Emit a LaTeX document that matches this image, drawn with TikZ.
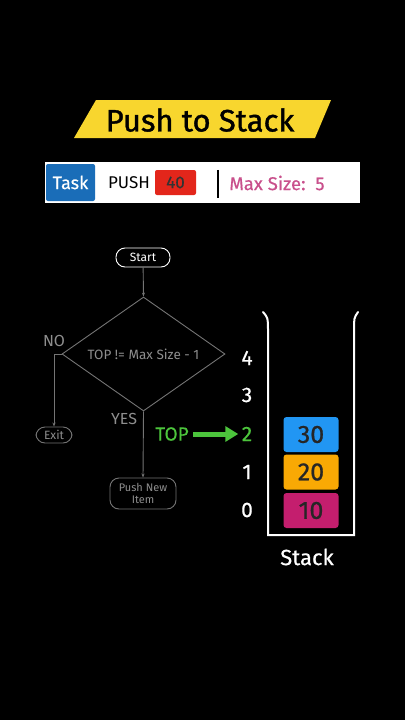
\documentclass[tikz,border=0pt]{standalone}
\usepackage{fontspec}
\setmainfont{Fira Sans}
\usetikzlibrary{arrows.meta,shapes.geometric}
\definecolor{ytitle}{HTML}{F8D62E}
\definecolor{taskblue}{HTML}{1A6DB8}
\definecolor{pushred}{HTML}{E3261B}
\definecolor{pinktxt}{HTML}{C9508C}
\definecolor{flowgray}{HTML}{747474}
\definecolor{flowtxt}{HTML}{8E8E8E}
\definecolor{tgreen}{HTML}{4CC43C}
\definecolor{b30}{HTML}{2196F3}
\definecolor{b20}{HTML}{F9A904}
\definecolor{b10}{HTML}{C41E6E}
\tikzset{
  flowbox/.style={draw=flowgray,line width=0.9pt,rounded corners=9pt,text=flowtxt,font=\fontsize{11}{12}\selectfont,align=center,inner sep=1pt},
  flowline/.style={draw=flowgray,line width=0.9pt,-{Stealth[length=4pt,width=3pt]}},
  flowlbl/.style={text=flowtxt,font=\fontsize{16}{17}\selectfont},
  idx/.style={text=white,font=\fontsize{21}{22}\selectfont\addfontfeature{FakeBold=0.6}},
  cell/.style={rounded corners=3pt,minimum width=55pt,minimum height=35pt,text=black!85,font=\fontsize{25}{26}\selectfont\addfontfeature{FakeBold=0.8},inner sep=0pt},
}
\begin{document}
\begin{tikzpicture}[x=1pt,y=-1pt]
\fill[black] (0,0) rectangle (405,720);
\useasboundingbox (0,0) rectangle (405,720);
% title banner
\fill[ytitle] (96,100) -- (331,100) -- (315,138) -- (74,138) -- cycle;
\node[font=\fontsize{31}{32}\selectfont\addfontfeature{FakeBold=1.2},text=black] (title) at (200,120) {Push to Stack};
% task bar
\node[fill=white,minimum width=315pt,minimum height=41pt,inner sep=0pt] (bar) at (202.5,182) {};
\node[fill=taskblue,rounded corners=2pt,minimum width=49pt,minimum height=37pt,inner sep=0pt,text=white,font=\fontsize{18}{19}\selectfont\addfontfeature{FakeBold=0.4}] (task) at (70.5,182.5) {Task};
\node[text=black,font=\fontsize{17}{18}\selectfont] (push) at (129,183) {PUSH};
\node[fill=pushred,rounded corners=2pt,minimum width=41pt,minimum height=25pt,inner sep=0pt,text=black!80,font=\fontsize{17}{18}\selectfont\addfontfeature{FakeBold=0.5}] (val) at (175.5,182.5) {40};
\node[minimum height=28pt,inner sep=0pt] (sep) at (218,184) {};
\draw[black,line width=1.2pt] (sep.north) -- (sep.south);
\node[text=pinktxt,font=\fontsize{18.5}{19}\selectfont\addfontfeature{FakeBold=0.4}] (max) at (277,183) {Max Size:\ \ 5};
% flowchart
\node[flowbox,draw=white!85,text=white!90,minimum width=54pt,minimum height=19pt,font=\fontsize{12}{13}\selectfont] (start) at (143,257.5) {Start};
\node[draw=flowgray,line width=0.9pt,diamond,aspect=1.43,minimum width=163pt,minimum height=114pt,inner sep=0pt,text=flowtxt,font=\fontsize{13.5}{14}\selectfont] (dec) at (143.5,354) {TOP != Max Size - 1};
\node[flowbox,minimum width=36pt,minimum height=16pt,font=\fontsize{12}{13}\selectfont] (exit) at (54,435) {Exit};
\node[flowbox,minimum width=66pt,minimum height=31pt] (pni) at (143,493.5) {Push New\\Item};
\draw[flowline] (start) -- (dec.north);
\draw[flowline] (dec.west) -- (54,354) -- (exit.north);
\draw[flowline] (dec.south) -- (pni.north);
\node[flowlbl] (no) at (54,341) {NO};
\node[flowlbl] (yes) at (124,419) {YES};
% indices
\node[idx] (i4) at (247,358) {4};
\node[idx] (i3) at (247,395) {3};
\node[idx,text=tgreen] (i2) at (247,434) {2};
\node[idx] (i1) at (247,472) {1};
\node[idx] (i0) at (247,510) {0};
\node[text=tgreen,font=\fontsize{19}{20}\selectfont\addfontfeature{FakeBold=0.4}] (top) at (172,434) {TOP};
\draw[tgreen,line width=5pt,-{Triangle[length=13pt,width=15pt]}] (top.east) ++(1,0) -- (i2.west);
% stack container
\draw[white,line width=2pt,line cap=round] (263,312) .. controls (268,318) .. (268,330) -- (268,535) -- (354,535) -- (354,330) .. controls (354,318) .. (358,312);
% cells
\node[cell,fill=b30] (c30) at (311,434.5) {30};
\node[cell,fill=b20] (c20) at (311,472) {20};
\node[cell,fill=b10] (c10) at (311,510.5) {10};
\node[text=white,font=\fontsize{22}{23}\selectfont\addfontfeature{FakeBold=0.5}] (stk) at (307,557) {Stack};
\end{tikzpicture}
\end{document}
